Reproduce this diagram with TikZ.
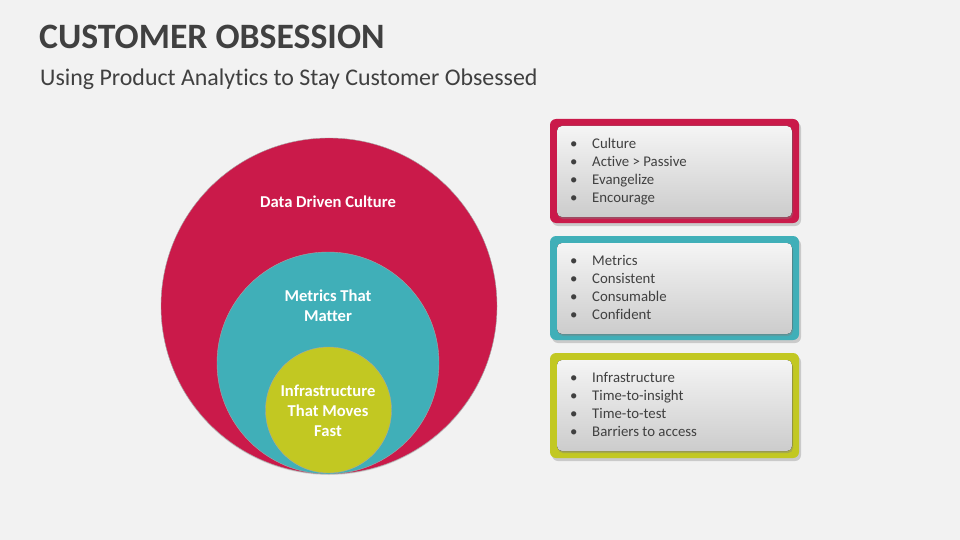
\documentclass[tikz,border=0pt]{standalone}
\usepackage{fontspec}
\setmainfont[Ligatures=NoCommon]{Carlito}
\usetikzlibrary{shadows}
\definecolor{bg}{HTML}{F2F2F2}
\definecolor{txt}{HTML}{404040}
\definecolor{cred}{HTML}{CA1A4A}
\definecolor{cteal}{HTML}{40AFB8}
\definecolor{clime}{HTML}{C2C822}
\tikzset{
  x=1pt, y=-1pt,
  ring/.style={circle, inner sep=0pt, draw=black!35, line width=0.4pt},
  ctext/.style={text=white, font=\bfseries\fontsize{16.6}{20}\selectfont, align=center},
  outerbox/.style={rounded corners=6pt, drop shadow={shadow xshift=2pt, shadow yshift=-3pt, opacity=0.35}},
  innerbox/.style={rounded corners=5pt, top color=white!96!black, bottom color=white!80!black, drop shadow={shadow xshift=1pt, shadow yshift=-2pt, opacity=0.4}},
  blist/.style={anchor=north west, inner sep=0pt, align=left, text=txt, font=\fontsize{14.8}{18}\selectfont},
}
\newcommand{\bitem}[1]{\makebox[22pt][l]{•}#1}
\begin{document}
\begin{tikzpicture}
\fill[bg] (0,0) rectangle (960,540);
\useasboundingbox (0,0) rectangle (960,540);

\node[anchor=base west, inner sep=0pt, text=txt, font=\bfseries\fontsize{35.7}{40}\selectfont] (title) at (39,49) {CUSTOMER OBSESSION};
\node[anchor=base west, inner sep=0pt, text=txt, font=\fontsize{23.9}{28}\selectfont] (sub) at (40,86) {Using Product Analytics to Stay Customer Obsessed};

% circles
\node[ring, fill=cred, minimum size=336pt, drop shadow={shadow xshift=0pt, shadow yshift=-1pt, opacity=0.25}] (c1) at (329,306) {};
\node[ring, fill=cteal, minimum size=222pt] (c2) at (328,363) {};
\node[ring, fill=clime, minimum size=126pt] (c3) at (328.5,410) {};
\node[ctext] (t1) at (328,202) {Data Driven Culture};
\node[ctext] (t2) at (328,306) {Metrics That\\Matter};
\node[ctext] (t3) at (328,411) {Infrastructure\\That Moves\\Fast};

% boxes
\fill[cred, outerbox] (550,119) rectangle (799,223);
\fill[innerbox] (557,126) rectangle (792,217);
\node[blist] (l1) at (570,138) {\bitem{Culture}\\\bitem{Active > Passive}\\\bitem{Evangelize}\\\bitem{Encourage}};

\fill[cteal, outerbox] (550,236) rectangle (799,340);
\fill[innerbox] (557,243) rectangle (792,334);
\node[blist] (l2) at (570,255) {\bitem{Metrics}\\\bitem{Consistent}\\\bitem{Consumable}\\\bitem{Confident}};

\fill[clime, outerbox] (550,353) rectangle (799,458);
\fill[innerbox] (557,360) rectangle (792,451);
\node[blist] (l3) at (570,372) {\bitem{Infrastructure}\\\bitem{Time-to-insight}\\\bitem{Time-to-test}\\\bitem{Barriers to access}};
\end{tikzpicture}
\end{document}
